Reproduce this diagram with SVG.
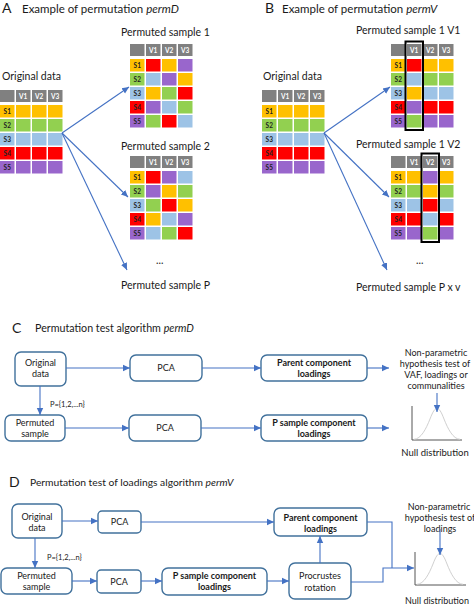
<svg xmlns="http://www.w3.org/2000/svg" xmlns:xlink="http://www.w3.org/1999/xlink" width="474" height="606" viewBox="0 0 474 606">
<style>
.y{fill:#FFC000}.g{fill:#92D050}.b{fill:#9DC3E6}.r{fill:#FF0000}.p{fill:#9966CC}.h{fill:#808080}
.t{font-family:"Lato","Liberation Sans",sans-serif;fill:#1a1a1a}
.lbl{font-size:10.5px}
.big{font-size:14px}
.ttl{font-size:11px}
.ht{font-family:"Lato","Liberation Sans",sans-serif;font-size:6.5px;font-weight:bold;fill:#fff;text-anchor:middle}
.st{font-family:"Lato","Liberation Sans",sans-serif;font-size:6.5px;font-weight:bold;fill:#222;text-anchor:middle}
.box{fill:#fff;stroke:#41719C;stroke-width:1.4}
.bt{font-family:"Lato","Liberation Sans",sans-serif;font-size:9px;fill:#1a1a1a;text-anchor:middle}
.bb{font-weight:bold}
.sm{font-family:"Lato","Liberation Sans",sans-serif;font-size:7.5px;fill:#1a1a1a}
.ln{fill:none;stroke:#4472C4;stroke-width:1.1}
.hl{fill:none;stroke:#000;stroke-width:2}
.ax{fill:none;stroke:#555;stroke-width:1}
.bell{fill:none;stroke:#d0d0d0;stroke-width:1}
</style>
<defs>
<marker id="ah" markerWidth="8" markerHeight="8" refX="7" refY="4" orient="auto" markerUnits="userSpaceOnUse">
<path d="M0,0.8 L7,4 L0,7.2 z" fill="#4472C4"/>
</marker>
<g id="frame">
<rect class="h" x="0" y="0" width="14.5" height="12"/>
<rect class="h" x="16" y="0" width="14.5" height="12"/>
<rect class="h" x="32" y="0" width="14.5" height="12"/>
<rect class="h" x="48" y="0" width="14.5" height="12"/>
<text class="ht" x="23.25" y="8.5">V1</text>
<text class="ht" x="39.25" y="8.5">V2</text>
<text class="ht" x="55.25" y="8.5">V3</text>
<rect class="y" x="0" y="15" width="14.5" height="12.5"/>
<rect class="g" x="0" y="29" width="14.5" height="12.5"/>
<rect class="b" x="0" y="43" width="14.5" height="12.5"/>
<rect class="r" x="0" y="57" width="14.5" height="12.5"/>
<rect class="p" x="0" y="71" width="14.5" height="12.5"/>
<text class="st" x="7.25" y="23.5">S1</text>
<text class="st" x="7.25" y="37.5">S2</text>
<text class="st" x="7.25" y="51.5">S3</text>
<text class="st" x="7.25" y="65.5">S4</text>
<text class="st" x="7.25" y="79.5">S5</text>
</g>
</defs>
<rect width="474" height="606" fill="#fff"/>

<!-- Panel A -->
<g id="panelA-title">
<text class="t big" x="2" y="13">A</text>
<text class="t ttl" x="22" y="12.5" style="font-size:11.5px">Example of permutation <tspan font-style="italic">permD</tspan></text>
</g>
<g id="A-original">
<text class="t lbl" x="2" y="80">Original data</text>
<g transform="translate(0,90)">
<use xlink:href="#frame"/>
<rect class="y" x="16" y="15" width="14.5" height="12.5"/><rect class="y" x="32" y="15" width="14.5" height="12.5"/><rect class="y" x="48" y="15" width="14.5" height="12.5"/>
<rect class="g" x="16" y="29" width="14.5" height="12.5"/><rect class="g" x="32" y="29" width="14.5" height="12.5"/><rect class="g" x="48" y="29" width="14.5" height="12.5"/>
<rect class="b" x="16" y="43" width="14.5" height="12.5"/><rect class="b" x="32" y="43" width="14.5" height="12.5"/><rect class="b" x="48" y="43" width="14.5" height="12.5"/>
<rect class="r" x="16" y="57" width="14.5" height="12.5"/><rect class="r" x="32" y="57" width="14.5" height="12.5"/><rect class="r" x="48" y="57" width="14.5" height="12.5"/>
<rect class="p" x="16" y="71" width="14.5" height="12.5"/><rect class="p" x="32" y="71" width="14.5" height="12.5"/><rect class="p" x="48" y="71" width="14.5" height="12.5"/>
</g>
</g>
<g id="A-sample1">
<text class="t lbl" x="121" y="36">Permuted sample 1</text>
<g transform="translate(130,44)">
<use xlink:href="#frame"/>
<rect class="r" x="16" y="15" width="14.5" height="12.5"/><rect class="y" x="32" y="15" width="14.5" height="12.5"/><rect class="p" x="48" y="15" width="14.5" height="12.5"/>
<rect class="b" x="16" y="29" width="14.5" height="12.5"/><rect class="p" x="32" y="29" width="14.5" height="12.5"/><rect class="y" x="48" y="29" width="14.5" height="12.5"/>
<rect class="y" x="16" y="43" width="14.5" height="12.5"/><rect class="g" x="32" y="43" width="14.5" height="12.5"/><rect class="r" x="48" y="43" width="14.5" height="12.5"/>
<rect class="p" x="16" y="57" width="14.5" height="12.5"/><rect class="b" x="32" y="57" width="14.5" height="12.5"/><rect class="g" x="48" y="57" width="14.5" height="12.5"/>
<rect class="g" x="16" y="71" width="14.5" height="12.5"/><rect class="r" x="32" y="71" width="14.5" height="12.5"/><rect class="b" x="48" y="71" width="14.5" height="12.5"/>
</g>
</g>
<g id="A-sample2">
<text class="t lbl" x="121" y="150">Permuted sample 2</text>
<g transform="translate(130,156)">
<use xlink:href="#frame"/>
<rect class="r" x="16" y="15" width="14.5" height="12.5"/><rect class="p" x="32" y="15" width="14.5" height="12.5"/><rect class="b" x="48" y="15" width="14.5" height="12.5"/>
<rect class="p" x="16" y="29" width="14.5" height="12.5"/><rect class="y" x="32" y="29" width="14.5" height="12.5"/><rect class="g" x="48" y="29" width="14.5" height="12.5"/>
<rect class="g" x="16" y="43" width="14.5" height="12.5"/><rect class="r" x="32" y="43" width="14.5" height="12.5"/><rect class="y" x="48" y="43" width="14.5" height="12.5"/>
<rect class="y" x="16" y="57" width="14.5" height="12.5"/><rect class="b" x="32" y="57" width="14.5" height="12.5"/><rect class="p" x="48" y="57" width="14.5" height="12.5"/>
<rect class="b" x="16" y="71" width="14.5" height="12.5"/><rect class="g" x="32" y="71" width="14.5" height="12.5"/><rect class="r" x="48" y="71" width="14.5" height="12.5"/>
</g>
</g>
<g id="A-sampleP">
<text class="t lbl" x="156" y="264">...</text>
<text class="t lbl" x="121" y="289">Permuted sample P</text>
</g>

<!-- Panel B -->
<g id="panelB-title">
<text class="t big" x="265" y="13">B</text>
<text class="t ttl" x="282" y="12.5" style="font-size:11.5px">Example of permutation <tspan font-style="italic">permV</tspan></text>
</g>
<g id="B-original">
<text class="t lbl" x="263" y="80">Original data</text>
<g transform="translate(262,90)">
<use xlink:href="#frame"/>
<rect class="y" x="16" y="15" width="14.5" height="12.5"/><rect class="y" x="32" y="15" width="14.5" height="12.5"/><rect class="y" x="48" y="15" width="14.5" height="12.5"/>
<rect class="g" x="16" y="29" width="14.5" height="12.5"/><rect class="g" x="32" y="29" width="14.5" height="12.5"/><rect class="g" x="48" y="29" width="14.5" height="12.5"/>
<rect class="b" x="16" y="43" width="14.5" height="12.5"/><rect class="b" x="32" y="43" width="14.5" height="12.5"/><rect class="b" x="48" y="43" width="14.5" height="12.5"/>
<rect class="r" x="16" y="57" width="14.5" height="12.5"/><rect class="r" x="32" y="57" width="14.5" height="12.5"/><rect class="r" x="48" y="57" width="14.5" height="12.5"/>
<rect class="p" x="16" y="71" width="14.5" height="12.5"/><rect class="p" x="32" y="71" width="14.5" height="12.5"/><rect class="p" x="48" y="71" width="14.5" height="12.5"/>
</g>
</g>
<g id="B-sample1V1">
<text class="t lbl" x="356" y="34">Permuted sample 1 V1</text>
<g transform="translate(391,44)">
<use xlink:href="#frame"/>
<rect class="r" x="16" y="15" width="14.5" height="12.5"/><rect class="y" x="32" y="15" width="14.5" height="12.5"/><rect class="y" x="48" y="15" width="14.5" height="12.5"/>
<rect class="b" x="16" y="29" width="14.5" height="12.5"/><rect class="g" x="32" y="29" width="14.5" height="12.5"/><rect class="g" x="48" y="29" width="14.5" height="12.5"/>
<rect class="y" x="16" y="43" width="14.5" height="12.5"/><rect class="b" x="32" y="43" width="14.5" height="12.5"/><rect class="b" x="48" y="43" width="14.5" height="12.5"/>
<rect class="p" x="16" y="57" width="14.5" height="12.5"/><rect class="r" x="32" y="57" width="14.5" height="12.5"/><rect class="r" x="48" y="57" width="14.5" height="12.5"/>
<rect class="g" x="16" y="71" width="14.5" height="12.5"/><rect class="p" x="32" y="71" width="14.5" height="12.5"/><rect class="p" x="48" y="71" width="14.5" height="12.5"/>
<rect class="hl" x="14.5" y="-2.5" width="17.5" height="88.5"/>
</g>
</g>
<g id="B-sample1V2">
<text class="t lbl" x="356" y="148">Permuted sample 1 V2</text>
<g transform="translate(391,156)">
<use xlink:href="#frame"/>
<rect class="y" x="16" y="15" width="14.5" height="12.5"/><rect class="p" x="32" y="15" width="14.5" height="12.5"/><rect class="y" x="48" y="15" width="14.5" height="12.5"/>
<rect class="g" x="16" y="29" width="14.5" height="12.5"/><rect class="y" x="32" y="29" width="14.5" height="12.5"/><rect class="g" x="48" y="29" width="14.5" height="12.5"/>
<rect class="b" x="16" y="43" width="14.5" height="12.5"/><rect class="r" x="32" y="43" width="14.5" height="12.5"/><rect class="b" x="48" y="43" width="14.5" height="12.5"/>
<rect class="r" x="16" y="57" width="14.5" height="12.5"/><rect class="b" x="32" y="57" width="14.5" height="12.5"/><rect class="r" x="48" y="57" width="14.5" height="12.5"/>
<rect class="p" x="16" y="71" width="14.5" height="12.5"/><rect class="g" x="32" y="71" width="14.5" height="12.5"/><rect class="p" x="48" y="71" width="14.5" height="12.5"/>
<rect class="hl" x="30.5" y="-2.5" width="17.5" height="88.5"/>
</g>
</g>
<g id="B-samplePxv">
<text class="t lbl" x="416" y="264">...</text>
<text class="t lbl" x="356" y="291">Permuted sample P x v</text>
</g>

<!-- Panel C -->
<g id="panelC-title">
<text class="t big" x="12" y="333">C</text>
<text class="t ttl" x="35" y="332" style="font-size:10.7px">Permutation test algorithm <tspan font-style="italic">permD</tspan></text>
</g>
<g id="C-original"><rect class="box" x="15" y="352" width="51" height="34" rx="6"/><text class="bt" x="40.5" y="366">Original</text><text class="bt" x="40.5" y="377">data</text></g>
<g id="C-pca1"><rect class="box" x="130" y="355" width="72" height="26" rx="6"/><text class="bt" x="166" y="371">PCA</text></g>
<g id="C-parent"><rect class="box" x="261" y="355" width="106" height="26" rx="6"/><text class="bt bb" x="314" y="366">Parent component</text><text class="bt bb" x="314" y="377">loadings</text></g>
<g id="C-permuted"><rect class="box" x="5" y="415" width="60" height="26" rx="6"/><text class="bt" x="35" y="426">Permuted</text><text class="bt" x="35" y="437">sample</text></g>
<g id="C-pca2"><rect class="box" x="129" y="415" width="72" height="26" rx="6"/><text class="bt" x="165" y="431">PCA</text></g>
<g id="C-psample"><rect class="box" x="261" y="415" width="106" height="26" rx="6"/><text class="bt bb" x="314" y="426">P sample component</text><text class="bt bb" x="314" y="437">loadings</text></g>
<g id="C-test">
<text class="bt" x="436" y="356">Non-parametric</text>
<text class="bt" x="435" y="367">hypothesis test of</text>
<text class="bt" x="436" y="378">VAF,  loadings or</text>
<text class="bt" x="436" y="389">communalities</text>
</g>
<g id="C-null">
<path class="ax" d="M412,406 V440 H462"/>
<path class="bell" d="M414,439.3 C421,439 426,429 430,419 C433,411 435,408.5 437,408.5 C439,408.5 441,411 444,419 C448,429 453,439 460,439.3"/>
<text class="bt" x="435" y="456" style="font-size:9.5px">Null distribution</text>
</g>

<!-- Panel D -->
<g id="panelD-title">
<text class="t big" x="9" y="487">D</text>
<text class="t ttl" x="30" y="486" style="font-size:10.3px">Permutation test of loadings algorithm <tspan font-style="italic">permV</tspan></text>
</g>
<g id="D-original"><rect class="box" x="12" y="504" width="50" height="34" rx="6"/><text class="bt" x="37" y="520">Original</text><text class="bt" x="37" y="531">data</text></g>
<g id="D-pca1"><rect class="box" x="98" y="511" width="43" height="22" rx="4"/><text class="bt" x="119.5" y="525">PCA</text></g>
<g id="D-parent"><rect class="box" x="274" y="508" width="93" height="28" rx="6"/><text class="bt bb" x="320.5" y="521">Parent component</text><text class="bt bb" x="320.5" y="532">loadings</text></g>
<g id="D-permuted"><rect class="box" x="1" y="568" width="71" height="26" rx="6"/><text class="bt" x="36.5" y="579">Permuted</text><text class="bt" x="36.5" y="590">sample</text></g>
<g id="D-pca2"><rect class="box" x="97" y="570" width="44" height="23" rx="4"/><text class="bt" x="119" y="585">PCA</text></g>
<g id="D-psample"><rect class="box" x="162" y="568" width="105" height="27" rx="6"/><text class="bt bb" x="214.5" y="579">P sample component</text><text class="bt bb" x="214.5" y="590">loadings</text></g>
<g id="D-procrustes"><rect class="box" x="289" y="563" width="62" height="36" rx="6"/><text class="bt" x="320" y="579">Procrustes</text><text class="bt" x="320" y="591">rotation</text></g>
<g id="D-test">
<text class="bt" x="439" y="510">Non-parametric</text>
<text class="bt" x="440" y="521">hypothesis test of</text>
<text class="bt" x="440" y="532">loadings</text>
</g>
<g id="D-null">
<path class="ax" d="M415,552 V585 H466"/>
<path class="bell" d="M417,584.3 C424,584 429,574 433,564 C436,556 438,553.5 440,553.5 C442,553.5 444,556 447,564 C451,574 456,584 463,584.3"/>
<text class="bt" x="437" y="603.5" style="font-size:9px">Null distribution</text>
</g>

<g id="connectors">
<line class="ln" x1="62" y1="133" x2="129" y2="87" marker-end="url(#ah)"/>
<line class="ln" x1="62" y1="133" x2="128" y2="197" marker-end="url(#ah)"/>
<line class="ln" x1="62" y1="133" x2="127" y2="270" marker-end="url(#ah)"/>
<line class="ln" x1="324" y1="133" x2="390" y2="87" marker-end="url(#ah)"/>
<line class="ln" x1="324" y1="133" x2="389" y2="197" marker-end="url(#ah)"/>
<line class="ln" x1="324" y1="133" x2="387" y2="270" marker-end="url(#ah)"/>

<line class="ln" x1="66" y1="368" x2="130" y2="368" marker-end="url(#ah)"/>
<line class="ln" x1="202" y1="368" x2="261" y2="368" marker-end="url(#ah)"/>
<line class="ln" x1="367" y1="368" x2="389" y2="368" marker-end="url(#ah)"/>
<line class="ln" x1="40" y1="386" x2="40" y2="415" marker-end="url(#ah)"/>
<text class="sm" x="50" y="407">P={1,2,...n}</text>
<line class="ln" x1="65" y1="428" x2="129" y2="428" marker-end="url(#ah)"/>
<line class="ln" x1="201" y1="428" x2="261" y2="428" marker-end="url(#ah)"/>
<line class="ln" x1="367" y1="428" x2="389" y2="428" marker-end="url(#ah)"/>
<line class="ln" x1="437" y1="393" x2="437" y2="412" marker-end="url(#ah)"/>

<line class="ln" x1="62" y1="521" x2="98" y2="521" marker-end="url(#ah)"/>
<line class="ln" x1="141" y1="522" x2="274" y2="522" marker-end="url(#ah)"/>
<line class="ln" x1="35" y1="538" x2="35" y2="568" marker-end="url(#ah)"/>
<text class="sm" x="47" y="560">P={1,2,...n}</text>
<line class="ln" x1="72" y1="581" x2="97" y2="581" marker-end="url(#ah)"/>
<line class="ln" x1="141" y1="581" x2="162" y2="581" marker-end="url(#ah)"/>
<line class="ln" x1="267" y1="581" x2="289" y2="581" marker-end="url(#ah)"/>
<line class="ln" x1="320" y1="563" x2="320" y2="536" marker-end="url(#ah)"/>
<path class="ln" d="M367,522 H392 V568"/>
<path class="ln" d="M351,582 H383 V568 H414" marker-end="url(#ah)"/>
<line class="ln" x1="440" y1="529" x2="440" y2="555" marker-end="url(#ah)"/>
</g>
</svg>
